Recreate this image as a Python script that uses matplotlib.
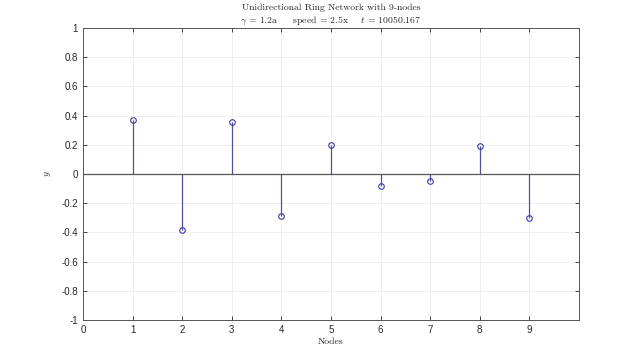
import numpy as np
import matplotlib.pyplot as plt

# Данные узлов
nodes = [1, 2, 3, 4, 5, 6, 7, 8, 9]
y_values = [0.37, -0.38, 0.36, -0.29, 0.20, -0.08, -0.05, 0.19, -0.30]

x_ticks = [0, 1, 2, 3, 4, 5, 6, 7, 8, 9]
y_ticks = [-1, -0.8, -0.6, -0.4, -0.2, 0, 0.2, 0.4, 0.6, 0.8, 1]
y_labels = ['-1', '-0.8', '-0.6', '-0.4', '-0.2', '0', '0.2', '0.4', '0.6', '0.8', '1']

plt.rcParams['mathtext.fontset'] = 'cm'
plt.rcParams['font.family'] = ['Liberation Sans', 'DejaVu Sans']

fig = plt.figure(figsize=(6.4, 3.6), dpi=100)
ax = fig.add_axes([0.1297, 0.111, 0.775, 0.811])

stem_color = '#52529a'
markerline, stemlines, baseline = ax.stem(nodes, y_values)
plt.setp(stemlines, color=stem_color, linewidth=0.9)
plt.setp(markerline, marker='o', markersize=4, markerfacecolor='none',
         markeredgecolor='#3a3aa8', markeredgewidth=0.8)
plt.setp(baseline, color='#555555', linewidth=0.9)
baseline.set_xdata([0, 10])

ax.set_xlim(0, 10)
ax.set_ylim(-1, 1)
ax.set_xticks(x_ticks)
ax.set_yticks(y_ticks)
ax.set_yticklabels(y_labels)
ax.tick_params(labelsize=7, colors='#262626', direction='in', length=3, width=0.6)
ax.tick_params(top=True, right=True, labeltop=False, labelright=False)
ax.grid(True, color='#ececec', linewidth=0.6)
ax.set_axisbelow(True)
for s in ax.spines.values():
    s.set_color('#555555')
    s.set_linewidth(0.7)

title = ('Unidirectional Ring Network with 9-nodes\n'
         r'$\gamma$ = 1.2a     speed = 2.5x    $t$ = 10050.167')
ax.set_title(title, fontsize=7, family='cmr10', color='#262626', pad=4, linespacing=1.25)
ax.set_xlabel('Nodes', fontsize=7, family='cmr10', color='#262626', labelpad=2)
ax.set_ylabel(r'$y$', fontsize=7, color='#262626', labelpad=6)

plt.savefig('out.png', dpi=100)
